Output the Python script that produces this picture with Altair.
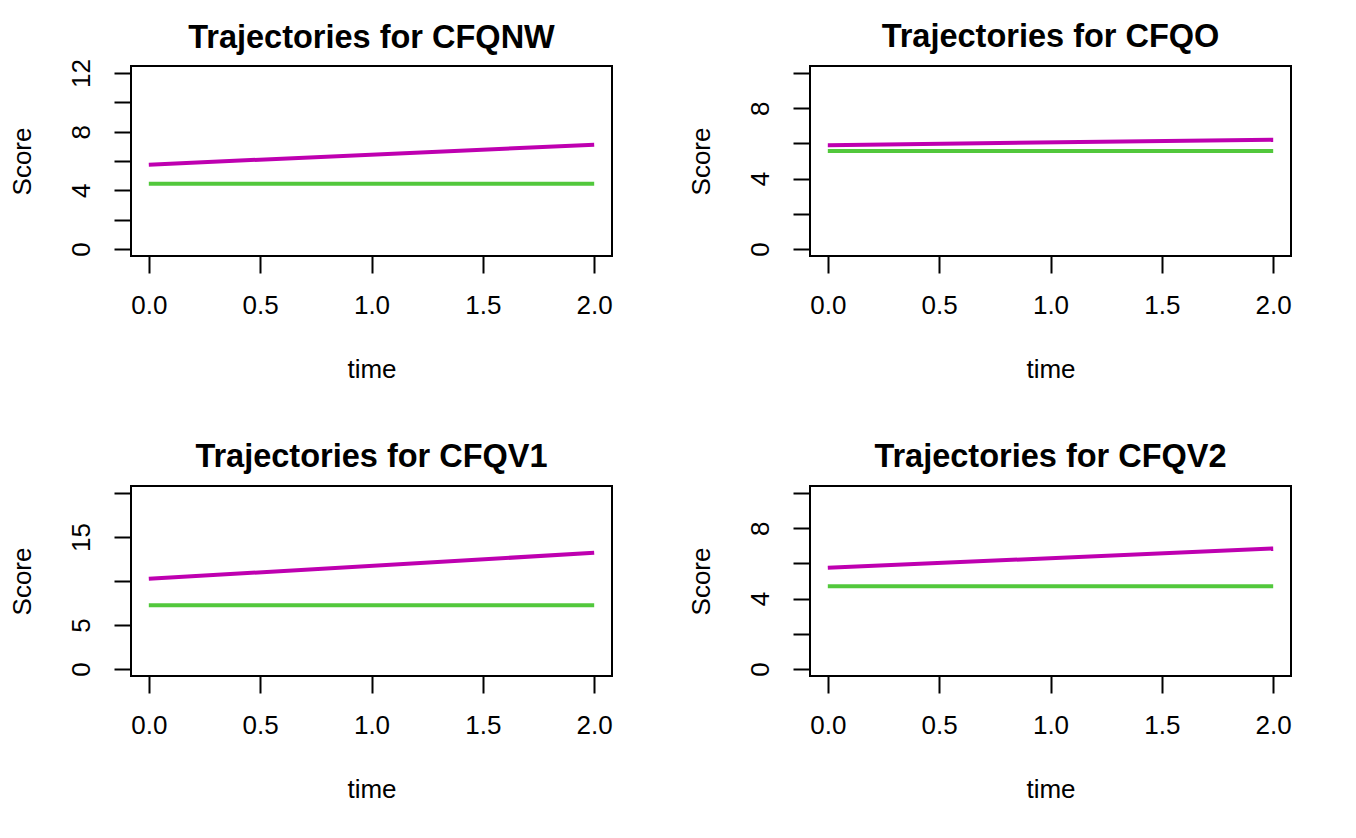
import altair as alt
import pandas as pd

# ---- data ----
panels = ["CFQNW", "CFQO", "CFQV1", "CFQV2"]
times = [0.0, 2.0]
purple_vals = [[5.75, 7.11], [5.90, 6.21], [10.25, 13.20], [5.75, 6.85]]
green_vals = [[4.45, 4.45], [5.57, 5.57], [7.24, 7.24], [4.70, 4.70]]
y_domains = [[-0.48, 12.48], [-0.4, 10.4], [-0.8, 20.8], [-0.4, 10.4]]
y_ticks = [[0, 2, 4, 6, 8, 10, 12], [0, 2, 4, 6, 8, 10], [0, 5, 10, 15, 20], [0, 2, 4, 6, 8, 10]]
y_labels = [[0, 4, 8, 12], [0, 4, 8], [0, 5, 15], [0, 4, 8]]
x_ticks = [0.0, 0.5, 1.0, 1.5, 2.0]
series_names = ["purple", "green"]
series_colors = ["#BE00B0", "#52C83C"]

FONT = "Liberation Sans"
W, H = 481, 190
title_offsets = [-29, -20, -20, -20]


def panel(i):
    rows = []
    for t, v in zip(times, purple_vals[i]):
        rows.append({"time": t, "score": v, "series": "purple"})
    for t, v in zip(times, green_vals[i]):
        rows.append({"time": t, "score": v, "series": "green"})
    df = pd.DataFrame(rows)
    lab = ",".join(str(v) for v in y_labels[i])
    return alt.Chart(df).mark_line(strokeWidth=4, strokeCap="butt").encode(
        x=alt.X("time:Q",
                scale=alt.Scale(domain=[-0.08, 2.08], nice=False, zero=False),
                axis=alt.Axis(values=x_ticks, format=".1f", title="time",
                              labelPadding=19, titleY=121, titleBaseline="alphabetic")),
        y=alt.Y("score:Q",
                scale=alt.Scale(domain=y_domains[i], nice=False, zero=False),
                axis=alt.Axis(values=y_ticks[i], title="Score",
                              labelExpr=f"indexof([{lab}], datum.value) >= 0 ? datum.label : ''",
                              labelAngle=270, labelAlign="center", labelBaseline="bottom",
                              labelPadding=20, titleAngle=270, titleX=-109, titleY=H / 2,
                              titleAlign="center", titleBaseline="middle")),
        color=alt.Color("series:N",
                        scale=alt.Scale(domain=series_names, range=series_colors),
                        legend=None),
    ).properties(
        width=W, height=H,
        title=alt.TitleParams(f"Trajectories for {panels[i]}", fontSize=32.5, fontWeight="bold",
                              font=FONT, anchor="middle", baseline="bottom",
                              offset=title_offsets[i], color="black"),
    )


chart = alt.vconcat(
    alt.hconcat(panel(0), panel(1), spacing=73),
    alt.hconcat(panel(2), panel(3), spacing=73),
    spacing=56,
).properties(
    padding={"left": 0, "top": 11, "right": 0, "bottom": 0},
    background="white",
).configure_view(
    stroke="black", strokeWidth=2,
).configure_axis(
    grid=False, domain=False, ticks=True, tickSize=17, tickWidth=2, tickColor="black",
    labelFont=FONT, labelFontSize=26, labelColor="black",
    titleFont=FONT, titleFontSize=26, titleFontWeight="normal", titleColor="black",
)

chart.save("out.html", embed_options={"renderer": "svg", "actions": False})
